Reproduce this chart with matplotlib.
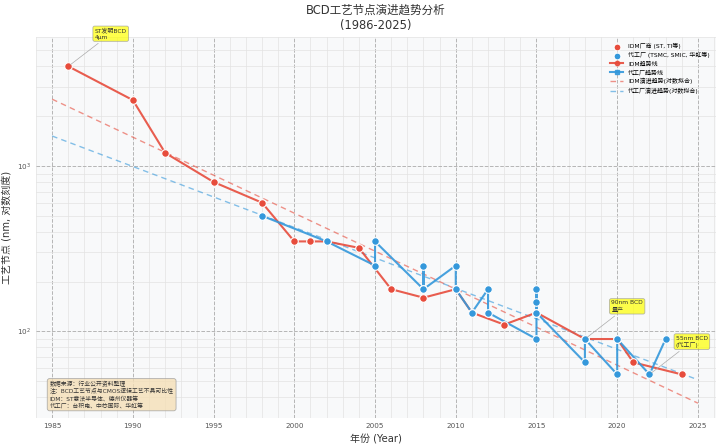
import numpy as np
import matplotlib.pyplot as plt
from matplotlib.ticker import MultipleLocator

plt.rcParams['font.family'] = ['DejaVu Sans', 'Noto Sans CJK SC']
plt.rcParams['axes.unicode_minus'] = False

# IDM厂商 (ST, TI等)
idm_years = [1986, 1990, 1992, 1995, 1998, 2000, 2001, 2002, 2004, 2006, 2008,
             2010, 2011, 2013, 2015, 2018, 2020, 2021, 2024]
idm_nodes = [4000, 2500, 1200, 800, 600, 350, 350, 350, 320, 180, 160,
             180, 130, 110, 130, 90, 90, 65, 55]

# 代工厂 (TSMC, SMIC, 华虹等)
fab_years = [1998, 2002, 2005, 2005, 2008, 2008, 2008, 2010, 2010, 2011, 2012, 2012,
             2015, 2015, 2015, 2015, 2018, 2018, 2020, 2020, 2022, 2023]
fab_nodes = [500, 350, 250, 350, 180, 250, 180, 250, 180, 130, 180, 130,
             90, 180, 150, 130, 65, 90, 55, 90, 55, 90]

# 标注
notes = ['ST发明BCD\n4μm', '90nm BCD\n量产', '55nm BCD\n(代工厂)']
note_years = [1986, 2018, 2022]
note_nodes = [4000, 90, 55]

info_text = ('数据来源：行业公开资料整理\n'
             '注：BCD工艺节点与CMOS逻辑工艺不具可比性\n'
             'IDM：ST意法半导体、德州仪器等\n'
             '代工厂：台积电、中芯国际、华虹等')

red = '#e74c3c'
blue = '#3498db'

fig, ax = plt.subplots(figsize=(7.2, 4.48), dpi=100)
fig.subplots_adjust(left=0.05, right=0.994, top=0.917, bottom=0.067)
ax.set_facecolor('#f8f9fa')

ax.scatter(idm_years, idm_nodes, s=30, color=red, edgecolors='white',
           linewidths=0.8, zorder=5, label='IDM厂商 (ST, TI等)')
ax.scatter(fab_years, fab_nodes, s=30, color=blue, edgecolors='white',
           linewidths=0.8, zorder=6, label='代工厂 (TSMC, SMIC, 华虹等)')

ax.plot(idm_years, idm_nodes, '-o', color=red, lw=1.5, ms=3.5, alpha=0.9,
        zorder=3, label='IDM趋势线')
ax.plot(fab_years, fab_nodes, '-s', color=blue, lw=1.5, ms=3.5, alpha=0.9,
        zorder=4, label='代工厂趋势线')

# 对数拟合
x_fit = np.linspace(1985, 2025, 100)
idm_coef = np.polyfit(idm_years, np.log10(idm_nodes), 1)
fab_coef = np.polyfit(fab_years, np.log10(fab_nodes), 1)
ax.plot(x_fit, 10 ** np.polyval(idm_coef, x_fit), '--', color=red, lw=1.0,
        alpha=0.6, zorder=2, dashes=(4, 3), label='IDM演进趋势(对数拟合)')
ax.plot(x_fit, 10 ** np.polyval(fab_coef, x_fit), '--', color=blue, lw=1.0,
        alpha=0.6, zorder=2, dashes=(4, 3), label='代工厂演进趋势(对数拟合)')

for txt, xv, yv in zip(notes, note_years, note_nodes):
    ax.annotate(txt, xy=(xv, yv), xytext=(19, 20), textcoords='offset points',
                fontsize=4.3, color='#333333',
                bbox=dict(boxstyle='round,pad=0.3', fc='yellow', ec='#999999',
                          alpha=0.7, lw=0.6),
                arrowprops=dict(arrowstyle='-', color='#aaaaaa', lw=0.5),
                zorder=7)

ax.text(0.02, 0.025, info_text, transform=ax.transAxes, fontsize=4.2,
        va='bottom', ha='left', color='#333333', linespacing=1.25,
        bbox=dict(boxstyle='round,pad=0.4', fc='wheat', ec='#999999',
                  alpha=0.75, lw=0.6), zorder=8)

ax.set_yscale('log')
ax.set_xlim(1984, 2026.1)
ax.set_ylim(30, 6000)
ax.xaxis.set_major_locator(MultipleLocator(5))
ax.xaxis.set_minor_locator(MultipleLocator(1))

ax.grid(True, which='major', linestyle='--', color='#b5b5b5', lw=0.7)
ax.grid(True, which='minor', linestyle='-', color='#e3e3e3', lw=0.5)
ax.set_axisbelow(True)
for sp in ax.spines.values():
    sp.set_visible(False)
ax.tick_params(which='both', length=0, labelsize=5.2, labelcolor='#555555')

ax.set_xlabel('年份 (Year)', fontsize=7.2, color='#333333', labelpad=4)
ax.set_ylabel('工艺节点 (nm, 对数刻度)', fontsize=7.2, color='#333333', labelpad=4)
ax.set_title('BCD工艺节点演进趋势分析\n(1986-2025)', fontsize=8.3,
             color='#333333', pad=6)

ax.legend(loc='upper right', fontsize=4.3, frameon=False, markerscale=0.9,
          borderaxespad=0.6, handlelength=2.2)

fig.savefig('out.png', dpi=100)
